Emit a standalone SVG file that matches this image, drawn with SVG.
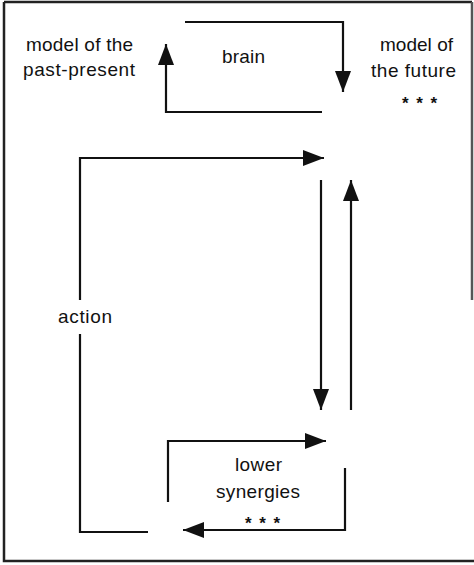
<svg xmlns="http://www.w3.org/2000/svg" width="474" height="565" viewBox="0 0 474 565">
<style>
.ln{fill:none;stroke:#111;stroke-width:2.2}
.fr{fill:none;stroke:#222;stroke-width:2.5}
text{font-family:"Liberation Sans",Arial,sans-serif;font-size:19px;fill:#111}
.st{font-size:17px;font-weight:bold}
</style>
<defs>
<marker id="ah" markerUnits="userSpaceOnUse" markerWidth="24" markerHeight="18" refX="21" refY="8" orient="auto">
<path d="M0,0 L21,8 L0,16 z" fill="#111"/>
</marker>
</defs>
<rect width="474" height="565" fill="#fff"/>
<g id="frame">
<path class="fr" d="M4,2 H472 M4,2 V561 H474"/>
<path d="M472,2 V300" stroke="#555" stroke-width="2.5" fill="none"/>
</g>
<g id="connectors">
<path class="ln" d="M185,22 H343 V92" marker-end="url(#ah)"/>
<path class="ln" d="M322,112 H166 V44" marker-end="url(#ah)"/>
<path class="ln" d="M80,300 V158 H324" marker-end="url(#ah)"/>
<path class="ln" d="M80,334 V532 H148"/>
<path class="ln" d="M321,180 V410" marker-end="url(#ah)"/>
<path class="ln" d="M351,410 V180" marker-end="url(#ah)"/>
<path class="ln" d="M168,502 V441 H326" marker-end="url(#ah)"/>
<path class="ln" d="M345,468 V530 H183" marker-end="url(#ah)"/>
</g>
<g id="past-present">
<text x="26" y="51" textLength="107">model of the</text>
<text x="23" y="76" textLength="112">past-present</text>
</g>
<g id="brain">
<text x="222" y="63" textLength="43">brain</text>
</g>
<g id="future">
<text x="380" y="51" textLength="73">model of</text>
<text x="371" y="77" textLength="85">the future</text>
<text class="st" x="402" y="109" textLength="35">* * *</text>
</g>
<g id="action">
<text x="58" y="323" textLength="54">action</text>
</g>
<g id="synergies">
<text x="235" y="471" textLength="47">lower</text>
<text x="216" y="498" textLength="84">synergies</text>
<text class="st" x="245" y="529" textLength="35">* * *</text>
</g>
</svg>
